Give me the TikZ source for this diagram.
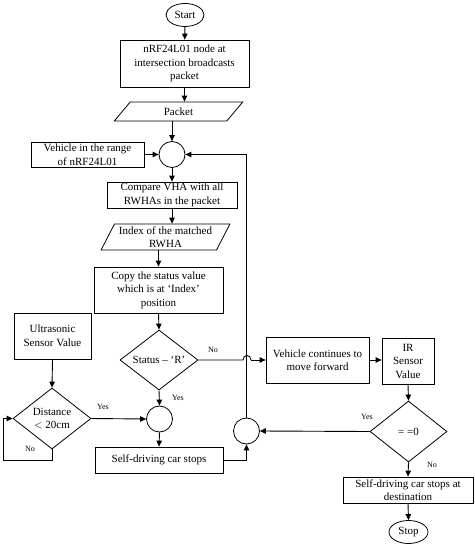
\documentclass[tikz,border=0pt]{standalone}
\usepackage{fontspec}
\setmainfont{Liberation Serif}
\usetikzlibrary{positioning, calc, shapes.geometric, arrows.meta}
\tikzstyle{Arrow} = [
line width=0.9pt,
-{Triangle[length=6pt,width=5.5pt]}]
\tikzstyle{Line} = [line width=0.9pt]
\tikzstyle{Box} = [draw, line width=0.8pt, rectangle, align=center,
inner sep=1pt, font=\fontsize{11}{13.5}\selectfont]
\tikzstyle{Data} = [Box, trapezium, trapezium left angle=62,
trapezium right angle=118, trapezium stretches=true]
\tikzstyle{Decision} = [Box, diamond, inner sep=0pt]
\tikzstyle{Joint} = [draw, line width=0.8pt, circle, minimum size=26pt, inner sep=0pt]
\tikzstyle{Term} = [Box, ellipse, inner sep=0pt]
\tikzstyle{Lbl} = [font=\fontsize{8}{9}\selectfont]

\begin{document}
\begin{tikzpicture}[x=1pt, y=-1pt]
    \useasboundingbox (0,0) rectangle (474,545);
    \node (1) [Term, minimum width=38pt, minimum height=23pt] at (185,15) {Start};
    \node (2) [Box, minimum width=129pt, minimum height=47pt] at (184.5,63.5)
        {nRF24L01 node at\\intersection broadcasts\\packet};
    \node (3) [Data, minimum width=129pt, minimum height=19pt] at (178.5,111.5) {Packet};
    \node (4) [Joint] at (172,154.5) {};
    \node (5) [Box, minimum width=113pt, minimum height=25pt] at (87.5,154.5)
        {Vehicle in the range\\of nRF24L01};
    \node (6) [Box, minimum width=130pt, minimum height=26pt] at (172,195)
        {Compare VHA with all\\RWHAs in the packet};
    \node (7) [Data, minimum width=129pt, minimum height=26pt] at (165.5,237)
        {Index of the matched\\RWHA};
    \node (8) [Box, minimum width=129pt, minimum height=46pt] at (158.5,290)
        {Copy the status value\\which is at `Index'\\position};
    \node (9) [Decision, minimum width=78pt, minimum height=60pt] at (159,360)
        {Status -- `R'};
    \node (10) [Box, minimum width=103pt, minimum height=46pt] at (317.5,360)
        {Vehicle continues to\\move forward};
    \node (11) [Box, minimum width=52pt, minimum height=46pt] at (408,361)
        {IR\\Sensor\\Value};
    \node (12) [Decision, minimum width=77pt, minimum height=61pt] at (408.5,431.5) {= =0};
    \node (13) [Joint] at (246.5,431) {};
    \node (14) [Box, minimum width=130pt, minimum height=26pt] at (408,490)
        {Self-driving car stops at\\destination};
    \node (15) [Term, minimum width=39pt, minimum height=23pt] at (408.5,532) {Stop};
    \node (16) [Joint] at (159.5,419) {};
    \node (17) [Box, minimum width=77pt, minimum height=46pt] at (52.5,336)
        {Ultrasonic\\Sensor Value};
    \node (18) [Decision, minimum width=78pt, minimum height=61pt] at (52,418.5)
        {Distance\\${<}$ 20cm};
    \node (19) [Box, minimum width=128pt, minimum height=26pt] at (159,460)
        {Self-driving car stops};
    \coordinate (h1) at (243,360);
    \coordinate (h2) at (251,360);
    \coordinate (c1) at (3,460);
    \draw[Arrow] (1) -- (2);
    \draw[Arrow] (2.south) -- (2.south |- 3.north);
    \draw[Arrow] (4 |- 3.south) -- (4.north);
    \draw[Arrow] (5.east) -- (4.west);
    \draw[Arrow] (13.north) |- (4.east);
    \draw[Arrow] (4.south) -- (6.north);
    \draw[Arrow] (6.south) -- (6.south |- 7.north);
    \draw[Arrow] (8 |- 7.south) -- (8.north);
    \draw[Arrow] (8.south) -- (9.north);
    \draw[Line] (9.east) -- (h1) .. controls +(0,-6) and +(0,-6) .. (h2);
    \draw[Arrow] (h2) -- (10.west);
    \draw[Arrow] (10.east) -- (10.east -| 11.west);
    \draw[Arrow] (11.south) -- (12.north);
    \draw[Arrow] (12.west) -- (13.east);
    \draw[Arrow] (12.south) -- (14.north);
    \draw[Arrow] (14.south) -- (15.north);
    \draw[Arrow] (9.south) -- (16.north);
    \draw[Arrow] (17.south) -- (18.north);
    \draw[Arrow] (18.east) -- (16.west);
    \draw[Arrow] (18.south) |- (c1) |- (18.west);
    \draw[Arrow] (16.south) -- (19.north);
    \draw[Arrow] (19.east) -| (13.south);
    \node[Lbl] at (213,350) {No};
    \node[Lbl] at (178,398) {Yes};
    \node[Lbl] at (103,407) {Yes};
    \node[Lbl] at (30,449) {No};
    \node[Lbl] at (367,417) {Yes};
    \node[Lbl] at (432,465) {No};
\end{tikzpicture}
\end{document}
